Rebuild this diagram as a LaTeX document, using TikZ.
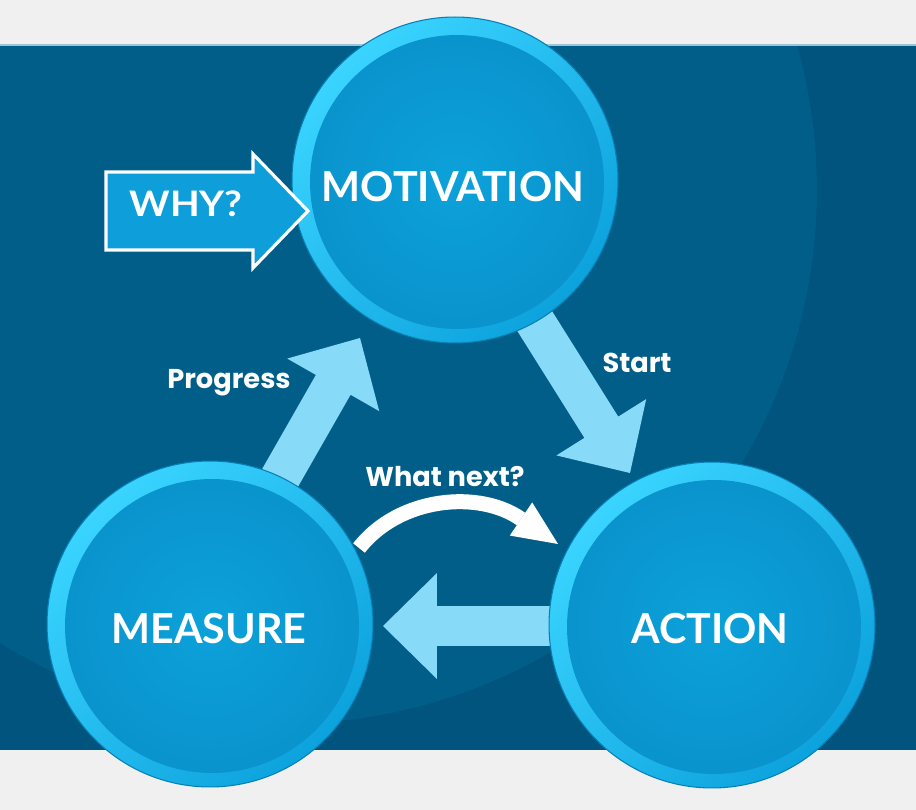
\documentclass[tikz,border=0pt]{standalone}
\usepackage{fontspec}
\setmainfont{Lato}
\newfontfamily\popfont{Poppins}
\usetikzlibrary{calc}

\definecolor{graybg}{HTML}{F0F0F0}
\definecolor{deepblue}{HTML}{00547E}
\definecolor{softblue}{HTML}{005E89}
\definecolor{bandline}{HTML}{9CC3D8}
\definecolor{arrowblue}{HTML}{88DAF9}
\definecolor{ringtop}{HTML}{3AD4FF}
\definecolor{ringbot}{HTML}{0CA2DD}
\definecolor{ringedge}{HTML}{0680B4}
\definecolor{disc}{HTML}{0CA1DA}
\definecolor{discedge}{HTML}{0A92CC}
\definecolor{whyblue}{HTML}{0E9ED9}

% block arrow from base #1 to tip #2
\newcommand{\fatarrow}[2]{%
  \coordinate (hb) at ($(#2)!1.08cm!(#1)$);
  \path[fill=arrowblue] ($(#1)!0.4cm!90:(#2)$) -- ($(hb)!0.4cm!90:(#2)$)
    -- ($(hb)!1.06cm!90:(#2)$) -- (#2) -- ($(hb)!1.06cm!-90:(#2)$)
    -- ($(hb)!0.4cm!-90:(#2)$) -- ($(#1)!0.4cm!-90:(#2)$) -- cycle;
}

\begin{document}
\begin{tikzpicture}[x=0.02cm, y=-0.02cm,
    ring/.style={circle, inner sep=0pt, minimum size=6.52cm, draw=ringedge, line width=0.6pt,
      top color=ringtop, bottom color=ringbot, shading angle=45,
      path picture={\shade[inner color=disc, outer color=discedge]
        ($(path picture bounding box.center)+(2,2)$) circle (2.94cm);}},
    biglabel/.style={anchor=base, text=white, font=\bfseries\fontsize{23.5}{27}\selectfont},
    smalllabel/.style={anchor=base, text=white, font=\popfont\bfseries\fontsize{15.5}{18}\selectfont}]
  \useasboundingbox (0,0) rectangle (916,810);
  % background
  \path[fill=graybg] (0,0) rectangle (916,810);
  \path[fill=deepblue] (0,45) rectangle (916,750);
  \begin{scope}
    \clip (0,45) rectangle (916,750);
    \path[fill=softblue] (283,190) circle (10.68cm);
  \end{scope}
  \path[draw=bandline, line width=0.8pt] (0,45) -- (916,45);

  % arrows between the circles
  \coordinate (progbase) at (236,555);
  \coordinate (progtip) at (360,338);
  \coordinate (startbase) at (497,261);
  \coordinate (starttip) at (630,473);
  \coordinate (backbase) at (600,626);
  \coordinate (backtip) at (383,626);
  \fatarrow{progbase}{progtip}
  \fatarrow{startbase}{starttip}
  \fatarrow{backbase}{backtip}

  % what next?
  \coordinate (wnbase) at (359,548);
  \coordinate (wnhb) at (521,519);
  \coordinate (wntip) at (558,544);
  \path[draw=white, line width=0.3cm] (wnbase) .. controls (400,496) and (480,490) .. (wnhb);
  \path[fill=white] ($(wnhb)!0.4cm!90:(wntip)$) -- (wntip) -- ($(wnhb)!0.4cm!-90:(wntip)$) -- cycle;

  % circles
  \node[ring] (mot) at (455,180) {};
  \node[ring] (mea) at (210,624) {};
  \node[ring] (act) at (712,625) {};
  \node[biglabel] (motlab) at (453,202) {MOTIVATION};
  \node[biglabel] (mealab) at (209,643) {MEASURE};
  \node[biglabel] (actlab) at (710,643) {ACTION};

  % why?
  \coordinate (whytip) at (308,211);
  \path[draw=white, fill=whyblue, line width=1.8pt, line join=miter]
    (106,172) -- (253,172) -- (253,154) -- (whytip) -- (253,268) -- (253,250) -- (106,250) -- cycle;
  \node[biglabel, font=\bfseries\fontsize{20}{24}\selectfont] (why) at (186,217) {\scalebox{1.1}[1]{WHY?}};

  % labels
  \node[smalllabel] (prog) at (229,389) {Progress};
  \node[smalllabel] (start) at (637,373) {Start};
  \node[smalllabel] (next) at (445,487) {What next?};
\end{tikzpicture}
\end{document}
